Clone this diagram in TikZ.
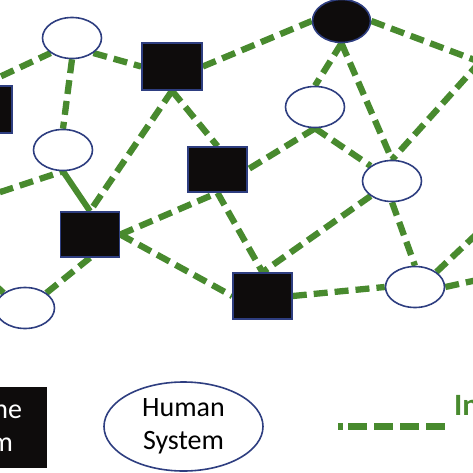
\documentclass[tikz,border=0pt]{standalone}
\usepackage{fontspec}
\setmainfont{Carlito}
\usetikzlibrary{shapes.geometric}
\definecolor{lgreen}{RGB}{72,138,46}
\definecolor{navy}{RGB}{46,62,128}
\definecolor{nblack}{RGB}{14,12,12}
\pgfdeclarelayer{bg}
\pgfsetlayers{bg,main}
\begin{document}
\begin{tikzpicture}[x=1pt,y=-1pt,
  hum/.style={ellipse,draw=navy,line width=1.6pt,fill=white,minimum width=59pt,minimum height=41pt,inner sep=0pt},
  mach/.style={rectangle,draw=navy,line width=1.6pt,fill=nblack,minimum width=59pt,minimum height=46pt,inner sep=0pt},
  link/.style={draw=lgreen,line width=6.3pt,dash pattern=on 14pt off 7pt},
  solidlink/.style={draw=lgreen,line width=6pt},
  legtext/.style={font=\fontsize{28}{33}\selectfont,align=center}]
\useasboundingbox (0,0) rectangle (473,473);
% human systems
\node[hum] (e1) at (72,38) {};
\node[hum] (e2) at (63,150) {};
\node[hum] (e3) at (25,308) {};
\node[hum] (e4) at (315,107) {};
\node[hum] (e5) at (392,181) {};
\node[hum] (e6) at (415,287) {};
\node[hum,fill=nblack,minimum width=58pt,minimum height=43pt] (b) at (341.5,21) {};
% machine systems
\node[mach,minimum width=60pt,minimum height=47pt] (r1) at (172,66.5) {};
\node[mach,minimum width=60pt,minimum height=47pt] (r2) at (-18,109.5) {};
\node[mach,minimum height=45pt] (r3) at (217.5,169.5) {};
\node[mach,minimum height=45pt] (r4) at (90,234.5) {};
\node[mach] (r5) at (262.5,296) {};
% off-page ends
\coordinate (ol1) at (-60,212);
\coordinate (ol2) at (-30,262);
\coordinate (or1) at (480,62);
\coordinate (or2) at (500,212);
\coordinate (or3) at (500,275);
\begin{pgfonlayer}{bg}
\draw[link] (r2.north) -- (e1.south west);
\draw[link] (e1.south east) -- (r1.west);
\draw[link] (e1.south) -- (e2.north);
\draw[link] (r1.east) -- (b.west);
\draw[link] (b.east) -- (or1);
\draw[link] (b.south) -- (e4.north);
\draw[link] (b.south) -- (e5.north);
\draw[link] (e4.south) -- (r3.east);
\draw[link] (e4.south) -- (e5.north west);
\draw[link] (or1) -- (e5.north);
\draw[link] (r1.south) -- (r4.north);
\draw[link] (r1.south) -- (r3.north);
\draw[solidlink] (e2.south) -- (r4.north);
\draw[link] (ol1) -- (e2.south);
\draw[link] (r4.east) -- (r3.south);
\draw[link] (r4.east) -- (r5.west);
\draw[link] (r4.south) -- (e3.north east);
\draw[link] (e3.north west) -- (ol2);
\draw[link] (r3.south) -- (r5.north);
\draw[link] (e5.south west) -- (r5.north);
\draw[link] (r5.east) -- (e6.west);
\draw[link] (e5.south) -- (e6.north);
\draw[link] (e6.north east) -- (or2);
\draw[link] (e6.east) -- (or3);
\end{pgfonlayer}
% legend
\node[rectangle,fill=nblack,minimum width=149pt,minimum height=81pt,inner sep=0pt,text=white,legtext] (msys) at (-27.5,427.5) {Machine\\System};
\node[hum,minimum width=159pt,minimum height=89pt,legtext] (hsys) at (183.5,426.5) {Human\\System};
\coordinate (l1) at (338,426.5);
\coordinate (l2) at (445,426.5);
\draw[lgreen,line width=7pt,dash pattern=on 5pt off 5pt on 19pt off 7pt on 19pt off 7pt on 19pt off 7pt on 19pt off 30pt] (l1) -- (l2);
\node[anchor=base west,inner sep=0pt,text=lgreen,font=\fontsize{31}{36}\selectfont\bfseries] (itext) at (454,415) {Interaction};
\end{tikzpicture}
\end{document}
